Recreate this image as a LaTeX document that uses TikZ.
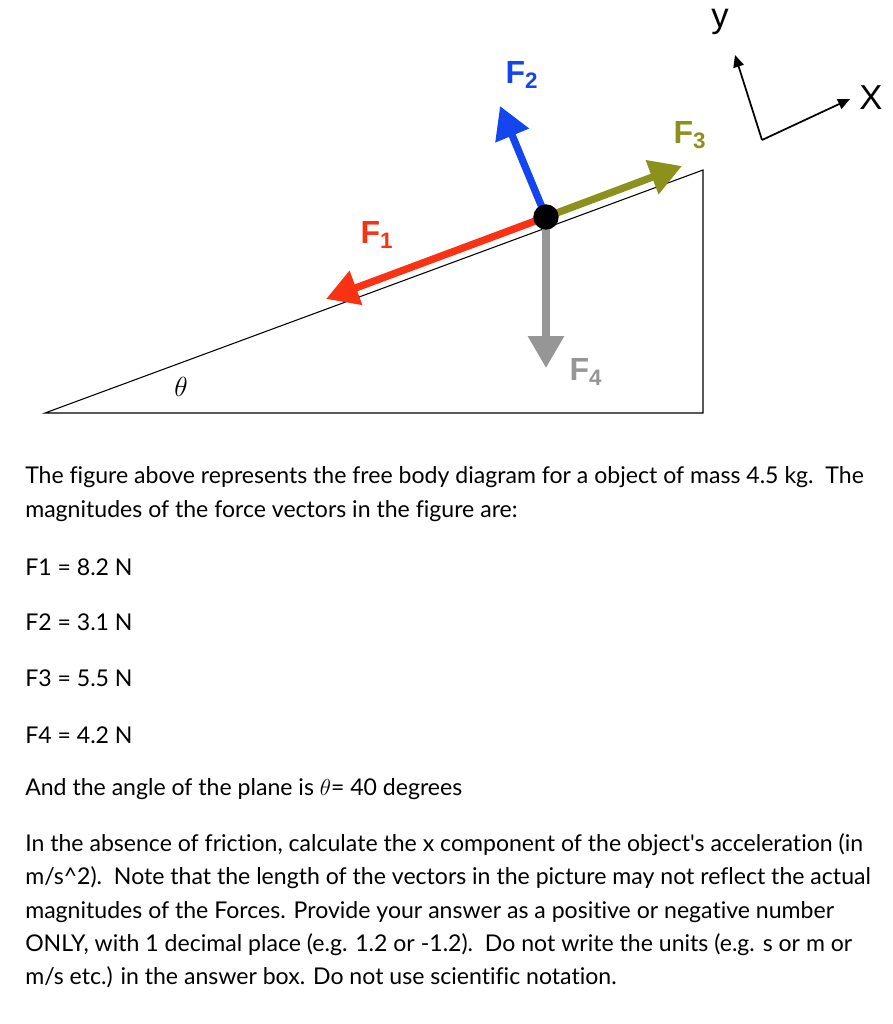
\documentclass[tikz,border=0pt]{standalone}
\usepackage{fontspec}
\setmainfont{Lato}[Ligatures={TeXOff,NoCommon}]
\newfontfamily\lab{Liberation Sans}
\usetikzlibrary{arrows.meta}
\definecolor{fred}{RGB}{250,50,20}
\definecolor{fblue}{RGB}{20,70,240}
\definecolor{folive}{RGB}{140,145,30}
\definecolor{fgray}{RGB}{150,150,150}
\begin{document}
\begin{tikzpicture}[x=0.75pt,y=-0.75pt,
  force/.style={line width=5.5pt,-{Triangle[length=24pt,width=26pt]}},
  flab/.style={font=\lab\bfseries\fontsize{24}{24}\selectfont},
  ax/.style={line width=1.3pt,-{Triangle[length=9pt,width=8pt]}},
  txt/.style={anchor=west,inner sep=0pt,font=\fontsize{17.3}{20}\selectfont}]
\useasboundingbox (0,0) rectangle (892,1024);
\coordinate (A) at (45,413); \coordinate (B) at (703,413); \coordinate (C) at (703,170);
\draw[line width=0.8pt] (A) -- (B) -- (C) -- cycle;
\coordinate (O) at (546,217);
\coordinate (e1) at (326,299); \coordinate (e2) at (500,106);
\coordinate (e3) at (682,166); \coordinate (e4) at (546,368);
\draw[force,fgray] (O) -- (e4);
\draw[force,fred] (O) -- (e1);
\draw[force,fblue] (O) -- (e2);
\draw[force,folive] (O) -- (e3);
\node[circle,fill=black,minimum size=19pt,inner sep=0pt] (dot) at (O) {};
\node[flab,text=fred] (l1) at (377,235) {F\textsubscript{1}};
\node[flab,text=fblue] (l2) at (522,75) {F\textsubscript{2}};
\node[flab,text=folive] (l3) at (690,135) {F\textsubscript{3}};
\node[flab,text=fgray] (l4) at (586,372) {F\textsubscript{4}};
\node (th) at (181,387) {\fontsize{22}{22}\selectfont$\theta$};
\coordinate (ax) at (762,140);
\coordinate (ay) at (735,55); \coordinate (axx) at (850,99);
\draw[ax] (ax) -- (ay);
\draw[ax] (ax) -- (axx);
\node[font=\lab\fontsize{26}{26}\selectfont] (ly) at (720,22) {y};
\node[font=\lab\fontsize{26}{26}\selectfont] (lx) at (871,98) {X};
\node[txt] (t1) at (25,477) {The figure above represents the free body diagram for a object of mass 4.5 kg.\ \ The};
\node[txt] (t2) at (25,511) {magnitudes of the force vectors in the figure are:};
\node[txt] (t3) at (25,567) {F1 = 8.2 N};
\node[txt] (t4) at (25,622) {F2 = 3.1 N};
\node[txt] (t5) at (25,678) {F3 = 5.5 N};
\node[txt] (t6) at (25,735) {F4 = 4.2 N};
\node[txt] (t7) at (25,789) {And the angle of the plane is $\theta$= 40 degrees};
\node[txt] (t8) at (25,845) {In the absence of friction, calculate the x component of the object's acceleration (in};
\node[txt] (t9) at (25,878) {m/s\^{}2).\ \ Note that the length of the vectors in the picture may not reflect the actual};
\node[txt] (t10) at (25,912) {magnitudes of the Forces. Provide your answer as a positive or negative number};
\node[txt] (t11) at (25,945) {ONLY, with 1 decimal place (e.g. 1.2 or -1.2).\ \ Do not write the units (e.g. s or m or};
\node[txt] (t12) at (25,977) {m/s etc.) in the answer box. Do not use scientific notation.};
\end{tikzpicture}
\end{document}
